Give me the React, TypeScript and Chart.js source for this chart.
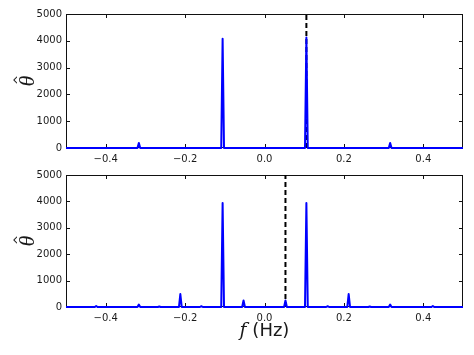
import React, { useEffect, useRef } from "react";
import { Chart, registerables } from "chart.js";

Chart.register(...registerables);

// ---- data ----
const xTicks = [-0.4, -0.2, 0.0, 0.2, 0.4];
const yTicks = [0, 1000, 2000, 3000, 4000, 5000];

const topPeakFreqs = [-0.3165, -0.1055, 0.1055, 0.3165];
const topPeakHeights = [190, 4080, 4120, 190];
const topMarker = 0.1055;

const bottomPeakFreqs = [-0.424, -0.3165, -0.265, -0.212, -0.159, -0.1055, -0.0528, 0.0528, 0.1055, 0.159, 0.212, 0.265, 0.3165, 0.424];
const bottomPeakHeights = [40, 90, 20, 490, 30, 3940, 250, 250, 3940, 30, 490, 20, 90, 40];
const bottomMarker = 0.0528;

const X_MIN = -0.5;
const X_MAX = 0.5;
const Y_MIN = 0;
const Y_MAX = 5000;
const PEAK_HALF_WIDTH = 0.0035;

function buildSeries(freqs: number[], heights: number[]) {
  const pts: { x: number; y: number }[] = [{ x: X_MIN, y: 0 }];
  freqs.forEach((f, i) => {
    pts.push({ x: f - PEAK_HALF_WIDTH, y: 0 });
    pts.push({ x: f, y: heights[i] });
    pts.push({ x: f + PEAK_HALF_WIDTH, y: 0 });
  });
  pts.push({ x: X_MAX, y: 0 });
  return pts;
}

const fmtX = (v: number) => {
  const s = Math.abs(v).toFixed(1);
  return v < -1e-9 ? "\u2212" + s : s;
};

const TICK_FONT = { family: "'DejaVu Sans'", size: 10 };
const TEXT_COLOR = "#1a1a1a";

function framePlugin() {
  return {
    id: "frame",
    beforeDatasetsDraw(chart: any) {
      const { ctx, chartArea: a, scales } = chart;
      ctx.save();
      ctx.strokeStyle = "#111";
      ctx.lineWidth = 1;
      ctx.strokeRect(a.left + 0.5, a.top + 0.5, a.right - a.left - 1, a.bottom - a.top - 1);
      ctx.beginPath();
      const L = 4;
      xTicks.forEach((v) => {
        const px = Math.round(scales.x.getPixelForValue(v)) + 0.5;
        ctx.moveTo(px, a.bottom);
        ctx.lineTo(px, a.bottom - L);
        ctx.moveTo(px, a.top);
        ctx.lineTo(px, a.top + L);
      });
      yTicks.forEach((v) => {
        const py = Math.round(scales.y.getPixelForValue(v)) + 0.5;
        ctx.moveTo(a.left, py);
        ctx.lineTo(a.left + L, py);
        ctx.moveTo(a.right, py);
        ctx.lineTo(a.right - L, py);
      });
      ctx.stroke();
      ctx.restore();
    },
  };
}

function labelsPlugin(withX: boolean) {
  return {
    id: "labels",
    afterDraw(chart: any) {
      const { ctx, chartArea: a } = chart;
      const cy = (a.top + a.bottom) / 2;
      ctx.save();
      ctx.fillStyle = TEXT_COLOR;
      // y label: theta with a hat, rotated
      ctx.translate(26, cy);
      ctx.rotate(-Math.PI / 2);
      ctx.font = "italic 22px 'Liberation Serif'";
      ctx.textAlign = "center";
      ctx.textBaseline = "alphabetic";
      ctx.fillText("\u03B8", 0, 7.5);
      ctx.font = "12px 'DejaVu Sans'";
      ctx.fillText("^", 1, -3);
      ctx.restore();
      if (withX) {
        ctx.save();
        ctx.fillStyle = TEXT_COLOR;
        const fFont = "italic 19px 'DejaVu Serif'";
        const hFont = "18px 'DejaVu Sans'";
        ctx.font = fFont;
        const w1 = ctx.measureText("f").width;
        ctx.font = hFont;
        const w2 = ctx.measureText(" (Hz)").width;
        const cx = (a.left + a.right) / 2;
        const x0 = cx - (w1 + w2) / 2;
        const base = 171;
        ctx.textBaseline = "alphabetic";
        ctx.textAlign = "left";
        ctx.font = fFont;
        ctx.fillText("f", x0, base);
        ctx.font = hFont;
        ctx.fillText(" (Hz)", x0 + w1, base);
        ctx.restore();
      }
    },
  };
}

function makeConfig(freqs: number[], heights: number[], marker: number, padTop: number, xAxisHeight: number, withX: boolean): any {
  return {
    type: "scatter",
    data: {
      datasets: [
        {
          data: buildSeries(freqs, heights),
          showLine: true,
          borderColor: "#0000ff",
          borderWidth: 2,
          pointRadius: 0,
          tension: 0,
          borderJoinStyle: "round",
          clip: false,
          order: 1,
        },
        {
          data: [
            { x: marker, y: Y_MIN },
            { x: marker, y: Y_MAX },
          ],
          showLine: true,
          borderColor: "#000000",
          borderWidth: 2,
          borderDash: [5, 3],
          pointRadius: 0,
          order: 2,
        },
      ],
    },
    options: {
      animation: false,
      responsive: false,
      maintainAspectRatio: false,
      layout: { padding: { top: padTop, right: 11, left: 0, bottom: 0 } },
      plugins: { legend: { display: false }, tooltip: { enabled: false } },
      scales: {
        x: {
          type: "linear",
          min: X_MIN,
          max: X_MAX,
          grid: { display: false, drawTicks: false },
          border: { display: false },
          afterBuildTicks: (s: any) => {
            s.ticks = xTicks.map((v) => ({ value: v }));
          },
          afterFit: (s: any) => {
            s.height = xAxisHeight;
          },
          ticks: {
            padding: 5,
            maxRotation: 0,
            autoSkip: false,
            color: TEXT_COLOR,
            font: TICK_FONT,
            callback: (v: any) => fmtX(Number(v)),
          },
        },
        y: {
          type: "linear",
          min: Y_MIN,
          max: Y_MAX,
          grid: { display: false, drawTicks: false },
          border: { display: false },
          afterBuildTicks: (s: any) => {
            s.ticks = yTicks.map((v) => ({ value: v }));
          },
          afterFit: (s: any) => {
            s.width = 66;
          },
          ticks: {
            padding: 4,
            autoSkip: false,
            color: TEXT_COLOR,
            font: TICK_FONT,
            callback: (v: any) => String(v),
          },
        },
      },
    },
    plugins: [framePlugin(), labelsPlugin(withX)],
  };
}

export default function App() {
  const topRef = useRef<HTMLCanvasElement>(null);
  const botRef = useRef<HTMLCanvasElement>(null);

  useEffect(() => {
    const c1 = new Chart(topRef.current!, makeConfig(topPeakFreqs, topPeakHeights, topMarker, 14, 17, false));
    const c2 = new Chart(botRef.current!, makeConfig(bottomPeakFreqs, bottomPeakHeights, bottomMarker, 8, 48, true));
    return () => {
      c1.destroy();
      c2.destroy();
    };
  }, []);

  return (
    <div style={{ position: "fixed", left: 0, top: 0, width: 474, height: 355, background: "#fff" }}>
      <canvas ref={topRef} width={474} height={165} style={{ position: "absolute", left: 0, top: 0, width: 474, height: 165 }} />
      <canvas ref={botRef} width={474} height={190} style={{ position: "absolute", left: 0, top: 165, width: 474, height: 190 }} />
    </div>
  );
}
